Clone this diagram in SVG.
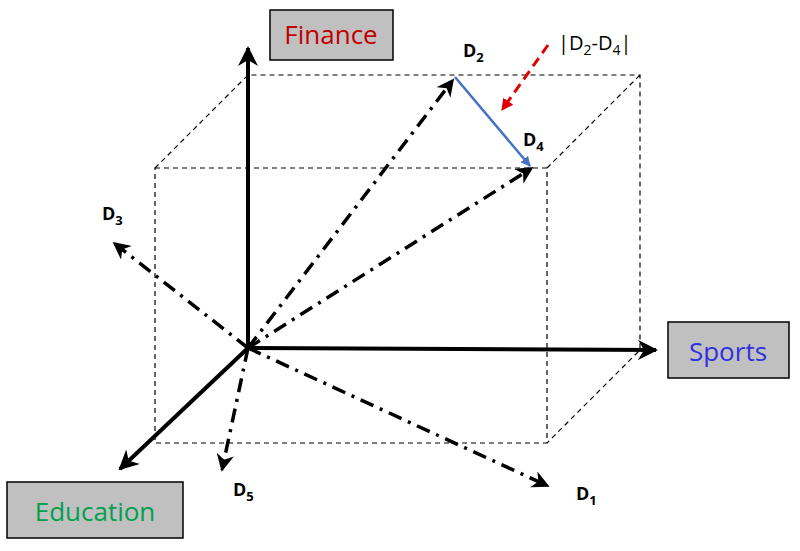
<svg xmlns="http://www.w3.org/2000/svg" width="800" height="551" viewBox="0 0 800 551">
<defs>
<marker id="ah" viewBox="0 0 10 10" refX="9" refY="5" markerWidth="5" markerHeight="5" orient="auto-start-reverse"><path d="M0,0 L10,5 L0,10 L3,5 Z" fill="#000"/></marker>
<marker id="ab" viewBox="0 0 10 10" refX="9" refY="5" markerWidth="4" markerHeight="4" orient="auto"><path d="M0,0 L10,5 L0,10 Z" fill="#4472C4"/></marker>
<marker id="ar" viewBox="0 0 10 10" refX="9" refY="5" markerWidth="4" markerHeight="4" orient="auto"><path d="M0,0 L10,5 L0,10 Z" fill="#e00000"/></marker>
<style>
.cube{stroke:#000;stroke-width:1.2;stroke-dasharray:5,4;fill:none}
.axis{stroke:#000;stroke-width:4;fill:none;marker-end:url(#ah)}
.vec{stroke:#000;stroke-width:3.5;stroke-dasharray:14,7,3,7;fill:none;marker-end:url(#ah)}
.box{fill:#c0c0c0;stroke:#000;stroke-width:1.5}
.lbl{font-family:"Open Sans","Liberation Sans",sans-serif;font-size:26px}
.d{font-family:"Open Sans","Liberation Sans",sans-serif;font-weight:bold;font-size:18px}
.s{font-size:13px}
</style>
</defs>
<g id="cube">
<rect class="cube" x="155" y="168" width="392" height="275"/>
<path class="cube" d="M155,168 L248,75 L640,75 L640,350 L547,443 M547,168 L640,75"/>
</g>
<g id="connectors">
<line class="axis" x1="248" y1="348" x2="248" y2="48"/>
<line class="axis" x1="248" y1="348" x2="656" y2="350"/>
<line class="axis" x1="248" y1="348" x2="120" y2="469"/>
<line class="vec" x1="248" y1="348" x2="453" y2="80"/>
<line class="vec" x1="248" y1="348" x2="532" y2="168"/>
<line class="vec" x1="248" y1="348" x2="114" y2="243"/>
<line class="vec" x1="248" y1="348" x2="222" y2="470"/>
<line class="vec" x1="248" y1="348" x2="548" y2="486"/>
<line x1="455" y1="77" x2="530" y2="166" stroke="#4472C4" stroke-width="2.5" marker-end="url(#ab)"/>
<line x1="548" y1="45" x2="502" y2="110" stroke="#e00000" stroke-width="3" stroke-dasharray="10,6" marker-end="url(#ar)"/>
</g>
<g id="finance"><rect class="box" x="270" y="10" width="123" height="50"/><text class="lbl" x="331" y="44" text-anchor="middle" fill="#c00000">Finance</text></g>
<g id="sports"><rect class="box" x="668" y="322" width="121" height="56"/><text class="lbl" x="728" y="361" text-anchor="middle" fill="#3030e0" font-size="30">Sports</text></g>
<g id="education"><rect class="box" x="7" y="482" width="176" height="56"/><text class="lbl" x="95" y="521" text-anchor="middle" fill="#00a050" font-size="30">Education</text></g>
<g id="d2"><text class="d" x="463" y="57">D<tspan class="s" dy="5">2</tspan></text></g>
<g id="d4"><text class="d" x="523" y="146">D<tspan class="s" dy="5">4</tspan></text></g>
<g id="d3"><text class="d" x="102" y="220">D<tspan class="s" dy="5">3</tspan></text></g>
<g id="d5"><text class="d" x="233" y="496">D<tspan class="s" dy="5">5</tspan></text></g>
<g id="d1"><text class="d" x="576" y="500">D<tspan class="s" dy="5">1</tspan></text></g>
<g id="diff"><text x="558" y="50" font-family="'Open Sans','Liberation Sans',sans-serif" font-size="20">|D<tspan font-size="14" dy="5">2</tspan><tspan dy="-5">-D</tspan><tspan font-size="14" dy="5">4</tspan><tspan dy="-5">|</tspan></text></g>
</svg>
